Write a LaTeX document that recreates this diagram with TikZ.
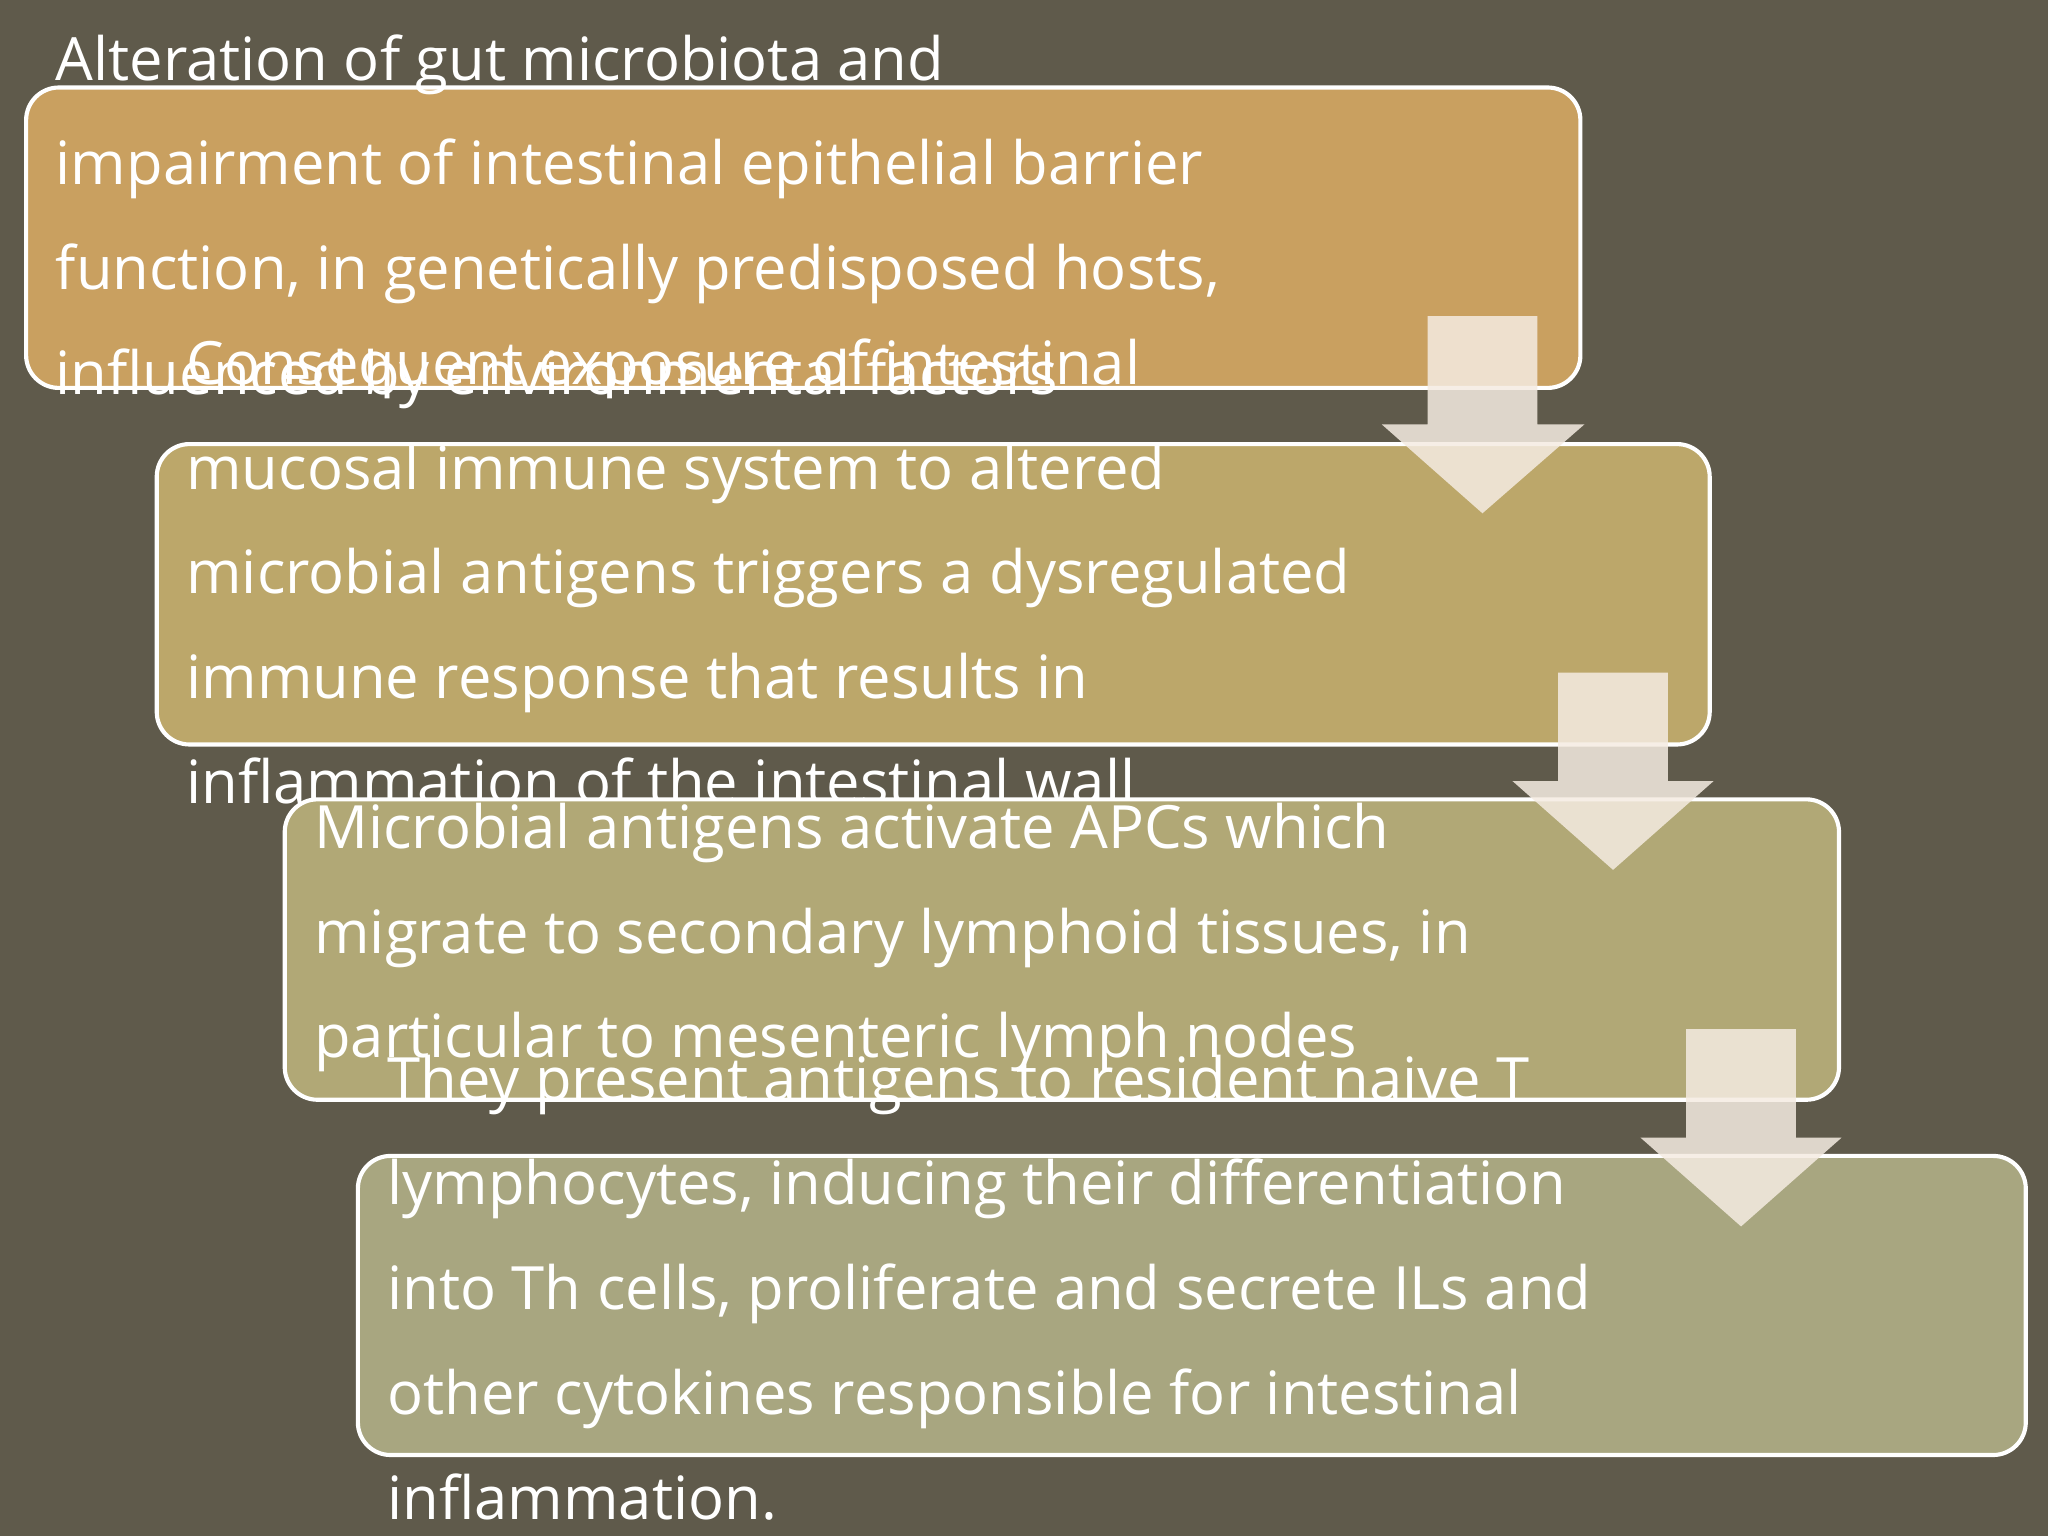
\documentclass[tikz,border=0pt]{standalone}
\usepackage{fontspec}
\setmainfont{Open Sans}
\usetikzlibrary{positioning}
\tikzset{
  stepbox/.style={draw=white, line width=0.9pt, rounded corners=0.25cm},
  steptext/.style={anchor=base west, inner sep=0pt, align=left, text=white,
    font=\fontsize{13pt}{22.8pt}\selectfont},
  downarrow/.style={fill=white!85!brown, fill opacity=0.85, draw=none}
}
\definecolor{bgcol}{HTML}{5F5A4B}
\definecolor{boxA}{HTML}{C9A060}
\definecolor{boxB}{HTML}{BCA76A}
\definecolor{boxC}{HTML}{B1A876}
\definecolor{boxD}{HTML}{A8A680}
\begin{document}
\begin{tikzpicture}[x=0.01cm,y=-0.01cm]
\fill[bgcol] (0,0) rectangle (1568,1176);
\useasboundingbox (0,0) rectangle (1568,1176);

% step 1
\draw[stepbox, fill=boxA] (20,67) rectangle (1210,297);
\node[steptext] (alteration) at (42,302) {Alteration of gut microbiota and\\impairment of intestinal epithelial barrier\\function, in genetically predisposed hosts,\\influenced by environmental factors};

% step 2
\draw[stepbox, fill=boxB] (120,340) rectangle (1309,570);
\draw[downarrow] (1093,242) -- (1177,242) -- (1177,325) -- (1213,325) -- (1135,393)
  -- (1058,325) -- (1093,325) -- cycle;
\node[steptext] (exposure) at (142,615) {Consequent exposure of intestinal\\mucosal immune system to altered\\microbial antigens triggers a dysregulated\\immune response that results in\\inflammation of the intestinal wall};

% step 3
\draw[stepbox, fill=boxC] (218,612) rectangle (1408,842);
\draw[downarrow] (1193,515) -- (1277,515) -- (1277,598) -- (1312,598) -- (1235,666)
  -- (1158,598) -- (1193,598) -- cycle;
\node[steptext] (apcs) at (240,810) {Microbial antigens activate APCs which\\migrate to secondary lymphoid tissues, in\\particular to mesenteric lymph nodes};

% step 4
\draw[stepbox, fill=boxD] (274,885) rectangle (1551,1114);
\draw[downarrow] (1291,788) -- (1375,788) -- (1375,871) -- (1410,871) -- (1333,939)
  -- (1256,871) -- (1291,871) -- cycle;
\node[steptext] (naive) at (296,1163) {They present antigens to resident naive T\\lymphocytes, inducing their differentiation\\into Th cells, proliferate and secrete ILs and\\other cytokines responsible for intestinal\\inflammation.};
\end{tikzpicture}
\end{document}
